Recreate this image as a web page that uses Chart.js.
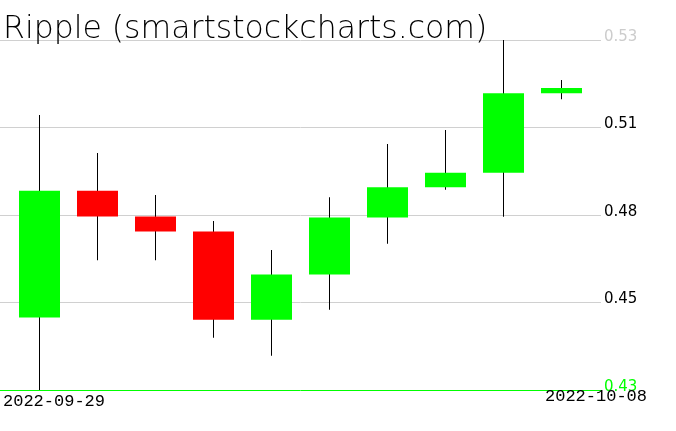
<!DOCTYPE html>
<html><head><meta charset="utf-8">
<script src="https://cdn.jsdelivr.net/npm/chart.js@4.4.0/dist/chart.umd.min.js"></script>
<style>html,body{margin:0;padding:0;background:#fff;overflow:hidden}canvas{display:block}</style>
</head><body>
<canvas id="c" width="676" height="431"></canvas>
<script>
const titleText = 'Ripple (smartstockcharts.com)';
const dates  = ['2022-09-29','2022-09-30','2022-10-01','2022-10-02','2022-10-03','2022-10-04','2022-10-05','2022-10-06','2022-10-07','2022-10-08'];
const opens  = [0.4507, 0.4869, 0.4796, 0.4753, 0.4501, 0.4630, 0.4793, 0.4879, 0.4921, 0.5148];
const highs  = [0.5086, 0.4977, 0.4857, 0.4783, 0.4700, 0.4851, 0.5003, 0.5043, 0.5300, 0.5186];
const lows   = [0.4300, 0.4671, 0.4671, 0.4449, 0.4398, 0.4529, 0.4718, 0.4872, 0.4795, 0.5131];
const closes = [0.4869, 0.4796, 0.4753, 0.4501, 0.4630, 0.4793, 0.4879, 0.4921, 0.5148, 0.5163];
const tickValues = [0.43, 0.455, 0.48, 0.505, 0.53];
const tickLabels = ['0.43', '0.45', '0.48', '0.51', '0.53'];

const bodies = dates.map((d, i) => ({x: i, y: [opens[i], closes[i]]}));
const wicks  = dates.map((d, i) => ({x: i, y: [lows[i], highs[i]]}));
const bodyColors = dates.map((d, i) => closes[i] >= opens[i] ? '#00ff00' : '#ff0000');

const overlay = {
  id: 'overlay',
  afterDraw(chart) {
    const c = chart.ctx;
    c.save();
    c.fillStyle = '#000';
    c.textAlign = 'left';
    c.textBaseline = 'alphabetic';
    c.font = '200 31.5px "DejaVu Sans"';
    c.fillText(titleText, 3, 38);
    c.font = '17px "Liberation Mono"';
    c.fillText(dates[0], 3, 406);
    c.textAlign = 'right';
    c.fillText(dates[dates.length - 1], 647, 401);
    c.restore();
  }
};

new Chart(document.getElementById('c'), {
  type: 'bar',
  data: {
    datasets: [
      {label: 'body', data: bodies, backgroundColor: bodyColors, barThickness: 41, borderWidth: 0, inflateAmount: 0, order: 0},
      {label: 'wick', data: wicks, backgroundColor: '#000000', barThickness: 1, borderWidth: 0, inflateAmount: 0, order: 1}
    ]
  },
  options: {
    responsive: false,
    animation: false,
    devicePixelRatio: 1,
    layout: {padding: {top: 40, bottom: 41, left: 0, right: 0}},
    datasets: {bar: {grouped: false}},
    plugins: {legend: {display: false}, tooltip: {enabled: false}, title: {display: false}},
    scales: {
      x: {type: 'linear', display: false, offset: false, min: -39.5 / 58, max: -39.5 / 58 + 601 / 58},
      y: {
        type: 'linear', position: 'right', min: 0.43, max: 0.53,
        border: {display: false},
        grid: {drawTicks: false, lineWidth: 1,
               color: c => (c.tick && Math.abs(c.tick.value - 0.43) < 1e-9) ? '#00ff00' : '#d0d0d0'},
        ticks: {
          padding: 3, labelOffset: -3, autoSkip: false,
          font: {family: 'DejaVu Sans', size: 15},
          color: c => {
            const v = c.tick ? c.tick.value : 0;
            if (Math.abs(v - 0.43) < 1e-9) return '#00ff00';
            if (Math.abs(v - 0.53) < 1e-9) return '#cccccc';
            return '#000000';
          },
          callback: (v, i) => tickLabels[i]
        },
        afterBuildTicks: s => { s.ticks = tickValues.map(v => ({value: v})); },
        afterFit: s => { s.width = 75; }
      }
    }
  },
  plugins: [overlay]
});
</script>
</body></html>
